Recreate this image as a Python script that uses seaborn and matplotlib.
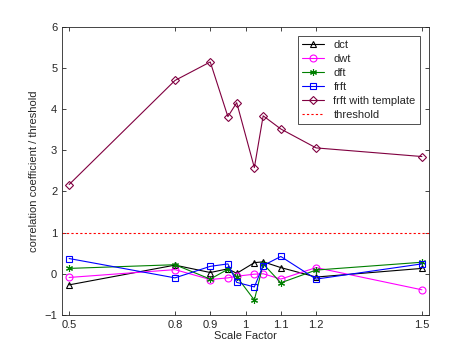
import numpy as np
import pandas as pd
import matplotlib
matplotlib.use("Agg")
import matplotlib.pyplot as plt
import seaborn as sns

# scale factors (x axis)
scale = [0.5, 0.8, 0.9, 0.95, 0.975, 1.025, 1.05, 1.1, 1.2, 1.5]

# correlation coefficient / threshold
dct = [-0.27, 0.21, 0.03, 0.12, 0.01, 0.27, 0.29, 0.15, -0.08, 0.13]
dwt = [-0.09, 0.10, -0.14, -0.10, -0.06, -0.01, 0.0, -0.13, 0.15, -0.39]
dft = [0.13, 0.22, -0.13, 0.11, -0.07, -0.64, 0.24, -0.22, 0.09, 0.28]
frft = [0.37, -0.10, 0.18, 0.24, -0.21, -0.32, 0.20, 0.42, -0.13, 0.24]
frft_tmpl = [2.17, 4.70, 5.15, 3.82, 4.16, 2.58, 3.84, 3.52, 3.06, 2.85]
threshold = 1.0

names = ["dct", "dwt", "dft", "frft", "frft with template"]
values = [dct, dwt, dft, frft, frft_tmpl]
colors = ["black", "#ff00ff", "#008000", "#0000ff", "#800040"]
markers = ["^", "o", (6, 2, 0), "s", "D"]
msizes = [5, 5, 5, 5, 4.5]

xticks = [0.5, 0.8, 0.9, 1, 1.1, 1.2, 1.5]
yticks = [-1, 0, 1, 2, 3, 4, 5, 6]

sns.set_style("ticks")
plt.rcParams["font.family"] = ["Liberation Sans", "DejaVu Sans"]

fig = plt.figure(figsize=(4.74, 3.55), dpi=100)
ax = fig.add_axes([0.131, 0.113, 0.774, 0.811])

for name, vals, c, m, ms in zip(names, values, colors, markers, msizes):
    sns.lineplot(x=scale, y=vals, ax=ax, color=c, marker=m, markersize=ms,
                 markerfacecolor="none", markeredgecolor=c, markeredgewidth=0.8,
                 linewidth=0.8, label=name)

ax.axhline(threshold, color="#ff0000", linestyle=(0, (2, 2)), linewidth=0.8, label="threshold")

ax.set_xlim(0.48, 1.52)
ax.set_ylim(-1, 6)
ax.set_xticks(xticks)
ax.set_xticklabels([str(t) for t in xticks])
ax.set_yticks(yticks)
ax.tick_params(direction="in", top=True, right=True, labelsize=8, length=3, width=0.6)
for s in ax.spines.values():
    s.set_linewidth(0.6)
ax.set_xlabel("Scale Factor", fontsize=8, labelpad=1)
ax.set_ylabel("correlation coefficient / threshold", fontsize=8)

leg = ax.legend(loc="upper right", fontsize=8, frameon=True, fancybox=False,
                edgecolor="black", borderpad=0.4, labelspacing=0.35,
                handlelength=2.0, borderaxespad=0.8)
leg.get_frame().set_linewidth(0.6)

fig.savefig("out.png", dpi=100)
